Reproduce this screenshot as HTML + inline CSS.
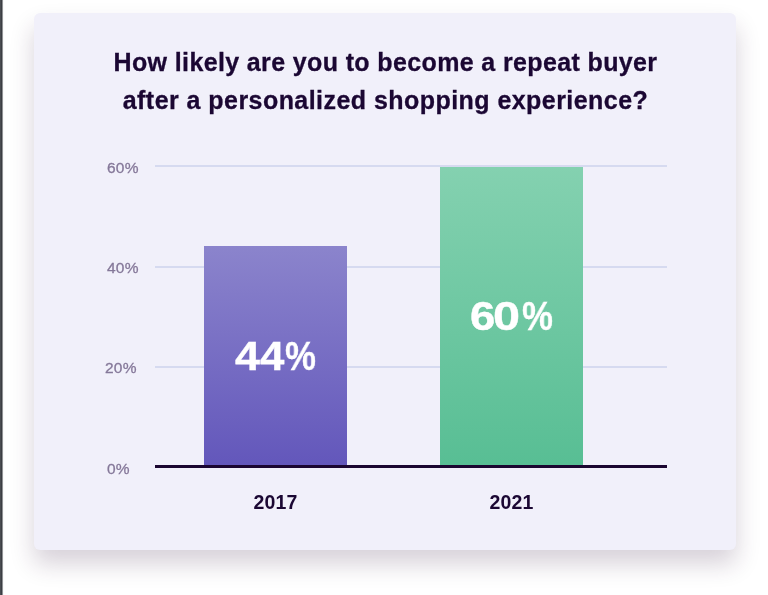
<!DOCTYPE html>
<html>
<head>
<meta charset="utf-8">
<style>
body *{will-change:transform;}
html,body{margin:0;padding:0;background:#fff;width:768px;height:595px;overflow:hidden;position:relative;}
.edge{position:absolute;left:0;top:0;width:4px;height:595px;background:linear-gradient(to right,#4a4d52 0,#4a4d52 1px,#3c3e44 1px,#3c3e44 2px,#909295 2px,#909295 3px,#f9f9f9 3px,#f9f9f9 4px);}
.card{position:absolute;left:34px;top:13px;width:702px;height:537px;background:#f1f0fa;border-radius:6px;box-shadow:0 14px 24px rgba(55,27,66,0.2);}
.t{position:absolute;left:34px;width:703px;text-align:center;font-family:"Liberation Sans",sans-serif;font-weight:bold;color:#1b0733;-webkit-text-stroke:0.3px #1b0733;font-size:25px;letter-spacing:0.37px;white-space:nowrap;}
.grid{position:absolute;left:155px;width:512px;height:2px;background:#d6daf0;}
.axis{position:absolute;left:155px;top:465px;width:512px;height:3px;background:#1b0631;}
.yl{position:absolute;font-family:"Liberation Sans",sans-serif;font-size:15.5px;letter-spacing:0.2px;color:#857899;-webkit-text-stroke:0.3px #857899;white-space:nowrap;}
.bar{position:absolute;}
.b1{left:204px;top:246px;width:143px;height:219px;background:linear-gradient(#8b84cc,#6357bb);}
.b2{left:440px;top:167px;width:143px;height:298px;background:linear-gradient(#84d1b0,#58be94);}
.g{position:absolute;transform-origin:0 0;font-family:"Liberation Sans",sans-serif;font-weight:bold;color:#fff;-webkit-text-stroke:0.4px #fff;font-size:40.5px;line-height:normal;white-space:nowrap;}
.xl{position:absolute;width:143px;text-align:center;font-family:"Liberation Sans",sans-serif;font-weight:bold;color:#1b0733;font-size:19.5px;letter-spacing:0.2px;white-space:nowrap;}
</style>
</head>
<body>
<div class="edge"></div>
<div class="card"></div>
<div class="t" style="top:48px;">How likely are you to become a repeat buyer</div>
<div class="t" style="top:86px;letter-spacing:0.45px;">after a personalized shopping experience?</div>
<div class="grid" style="top:165px;"></div>
<div class="grid" style="top:266px;"></div>
<div class="grid" style="top:366px;"></div>
<div class="yl" style="left:106.7px;top:159px;">60%</div>
<div class="yl" style="left:106.7px;top:259px;">40%</div>
<div class="yl" style="left:104.7px;top:359px;">20%</div>
<div class="yl" style="left:106.7px;top:460px;">0%</div>
<div class="bar b1"></div>
<div class="bar b2"></div>
<div class="axis"></div>
<div class="g" style="left:235px;top:333px;transform:scaleX(1.11);">4</div>
<div class="g" style="left:260.4px;top:333px;transform:scaleX(1.08);">4</div>
<div class="g" style="left:284.6px;top:333px;transform:scaleX(0.86);">%</div>
<div class="g" style="left:470.4px;top:293px;transform:scaleX(1.12);">6</div>
<div class="g" style="left:493.4px;top:293px;transform:scaleX(1.2);">0</div>
<div class="g" style="left:522.2px;top:293px;transform:scaleX(0.86);">%</div>
<div class="xl" style="left:204px;top:490.5px;">2017</div>
<div class="xl" style="left:440px;top:490.5px;">2021</div>
</body>
</html>
